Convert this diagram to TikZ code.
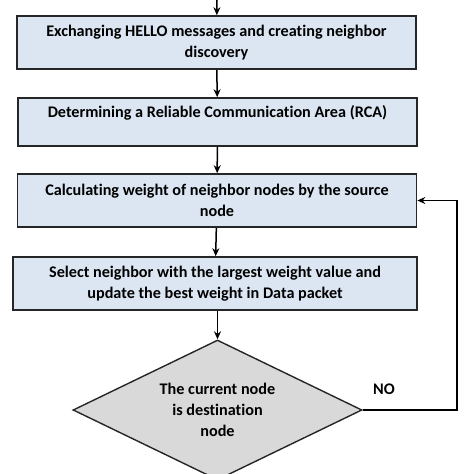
\documentclass[tikz,border=0pt]{standalone}
\usepackage{fontspec}
\setmainfont{Carlito}[Ligatures=NoCommon]
\usetikzlibrary{shapes.geometric,arrows.meta}
\definecolor{boxblue}{HTML}{DCE6F2}
\definecolor{decgray}{HTML}{D9D9D9}
\begin{document}
\begin{tikzpicture}[x=1pt,y=-1pt,
  stepbox/.style={draw=black!85, line width=1.6pt, fill=boxblue, minimum width=399pt, minimum height=53pt, inner sep=0pt, align=center, font=\bfseries\fontsize{16.2}{21}\selectfont},
  decbox/.style={diamond, shape aspect=2.06, draw=black!85, line width=1.4pt, fill=decgray, minimum width=289pt, minimum height=140pt, inner sep=0pt, align=center, font=\bfseries\fontsize{16.2}{21}\selectfont},
  flow/.style={-{Stealth[length=8pt,width=7pt]}, line width=1.5pt}]
\useasboundingbox (0,0) rectangle (474,474);
\begin{scope}
\clip (0,0) rectangle (474,474);
\coordinate (start) at (217,0);
\node[stepbox] (hello) at (216.5,42.5){Exchanging HELLO messages and creating neighbor\\discovery};
\node[stepbox, minimum height=48pt] (rca) at (217.5,122){Determining a Reliable Communication Area (RCA)\\\mbox{}};
\node[stepbox] (weight) at (217,200.5){Calculating weight of neighbor nodes by the source\\node};
\node[stepbox, minimum width=404pt] (select) at (215,283.5){Select neighbor with the largest weight value and\\update the best weight in Data packet};
\node[decbox] (dest) at (217.5,410){The current node\\is destination\\node};
\coordinate (loop) at (457,410);
\node[font=\bfseries\fontsize{16.2}{21}\selectfont] (no) at (384,389){NO};
\draw[flow](start) -- (hello);
\draw[flow](hello) -- (rca);
\draw[flow](rca) -- (weight);
\draw[flow](weight) -- (select);
\draw[flow](select.south -| dest.north) -- (dest.north);
\draw[flow](dest.east) -- (loop) |- (weight.east);
\end{scope}
\end{tikzpicture}
\end{document}
